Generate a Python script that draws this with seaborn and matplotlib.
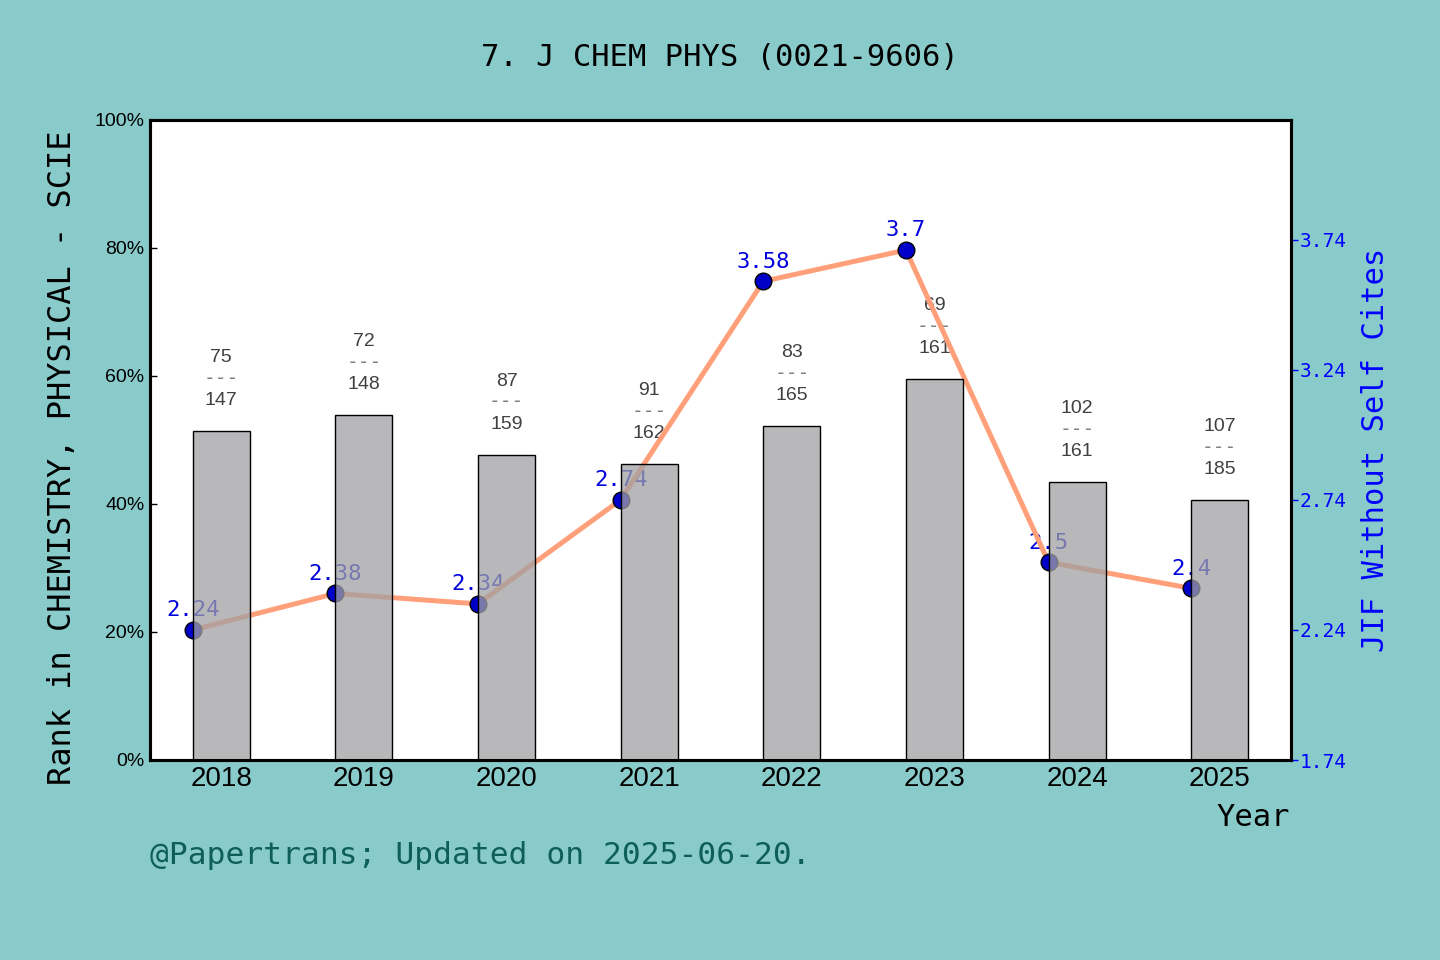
import matplotlib
matplotlib.use("Agg")
import matplotlib.pyplot as plt
import numpy as np
import pandas as pd
import seaborn as sns
from matplotlib.ticker import FixedLocator, PercentFormatter

years = ["2018", "2019", "2020", "2021", "2022", "2023", "2024", "2025"]
rank = [75, 72, 87, 91, 83, 69, 102, 107]
total = [147, 148, 159, 162, 165, 161, 161, 185]
rank_pct = [51.4, 53.9, 47.7, 46.2, 52.2, 59.5, 43.4, 40.6]
jif = [2.24, 2.38, 2.34, 2.74, 3.58, 3.7, 2.5, 2.4]
jif_ticks = [1.74, 2.24, 2.74, 3.24, 3.74]

BG = "#88cbca"
MONO = "DejaVu Sans Mono"
SANS = "Liberation Sans"

sns.set_style("white")
plt.rcParams["font.family"] = [SANS, "DejaVu Sans"]
plt.rcParams["text.color"] = "black"
plt.rcParams["xtick.color"] = "black"
plt.rcParams["ytick.color"] = "black"

df = pd.DataFrame({"year": years, "pct": np.array(rank_pct) / 100.0})

fig = plt.figure(figsize=(14.4, 9.6), dpi=100, facecolor=BG)
ax = fig.add_axes([150 / 1440, 200 / 960, 1141 / 1440, 640 / 960])
ax.set_facecolor("white")
ax2 = ax.twinx()  # bars go on the twin so they sit above the line

# JIF line on the lower axes (its axis shown on the right)
n = len(years)
xpos = np.arange(n) - 0.2
sns.lineplot(x=xpos, y=jif, ax=ax, color="#ffa07a", lw=3.6, zorder=3,
             marker="o", markersize=12, markerfacecolor="#0000c8",
             markeredgecolor="black", markeredgewidth=1)
for x, v in zip(xpos, jif):
    ax.annotate(f"{v:g}", (x, v), xytext=(0, 7), textcoords="offset points",
                ha="center", va="bottom", color="#0000dd", fontsize=16,
                family=MONO, zorder=1)

# rank bars
sns.barplot(data=df, x="year", y="pct", ax=ax2, width=0.4)
for p in ax2.patches:
    p.set_alpha(None)
    p.set_facecolor((0.63, 0.63, 0.64, 0.75))
    p.set_edgecolor("black")
    p.set_linewidth(1)
for i, (r, t, v) in enumerate(zip(rank, total, df["pct"])):
    for txt, dy, fam, col in ((str(t), 22, SANS, "#404040"),
                              ("---", 38, MONO, "#808080"),
                              (str(r), 53, SANS, "#404040")):
        ax.annotate(txt, (i, v), xycoords=ax2.transData,
                    xytext=(0, dy), textcoords="offset points",
                    ha="center", va="center", fontsize=14, color=col,
                    family=fam, zorder=1)

for a in (ax, ax2):
    a.set_xlim(-0.5, n - 0.5)
    a.set_xlabel("")
    a.set_ylabel("")
ax2.set_ylim(0, 1)
ax.set_ylim(1.74, 4.2)

# left = percentage (twin), right = JIF (base)
ax2.yaxis.tick_left()
ax.yaxis.tick_right()
ax2.yaxis.set_major_locator(FixedLocator([0, 0.2, 0.4, 0.6, 0.8, 1.0]))
ax2.yaxis.set_major_formatter(PercentFormatter(1.0, decimals=0))
ax2.tick_params(axis="y", direction="in", length=5, width=1, pad=4,
                labelsize=14, colors="black")
ax.set_yticks(jif_ticks)
ax.set_yticklabels([f"{t:g}" for t in jif_ticks], family=MONO)
ax.tick_params(axis="y", direction="out", length=5, width=1, pad=1,
               labelsize=14, colors="#0000ff")

ax.set_xticks(range(n))
ax.set_xticklabels(years, fontsize=20, color="black")
ax.set_xticks(np.arange(n - 1) + 0.5, minor=True)
ax.tick_params(axis="x", which="major", length=0, pad=4)
ax.tick_params(axis="x", which="minor", direction="in", length=5, width=1)
ax2.tick_params(axis="x", which="both", length=0, labelbottom=False)

for a in (ax, ax2):
    for s in a.spines.values():
        s.set_visible(True)
        s.set_color("black")
        s.set_linewidth(2.2)

fig.text(0.5, 1 - 57 / 960, "7. J CHEM PHYS (0021-9606)", ha="center",
         va="center", fontsize=22, family=MONO, color="black")
fig.text(63 / 1440, 1 - 458 / 960, "Rank in CHEMISTRY, PHYSICAL - SCIE",
         rotation=90, ha="center", va="center", fontsize=23, family=MONO,
         color="black")
fig.text(1375 / 1440, 1 - 450 / 960, "JIF Without Self Cites", rotation=90,
         ha="center", va="center", fontsize=22, family=MONO, color="#0000ff")
fig.text(1290 / 1440, 1 - 817 / 960, "Year", ha="right", va="center",
         fontsize=22, family=MONO, color="black")
fig.text(150 / 1440, 1 - 855 / 960, "@Papertrans; Updated on 2025-06-20.",
         ha="left", va="center", fontsize=22.5, family=MONO, color="#0e5f5a")

fig.savefig("out.png", dpi=100, facecolor=BG)
